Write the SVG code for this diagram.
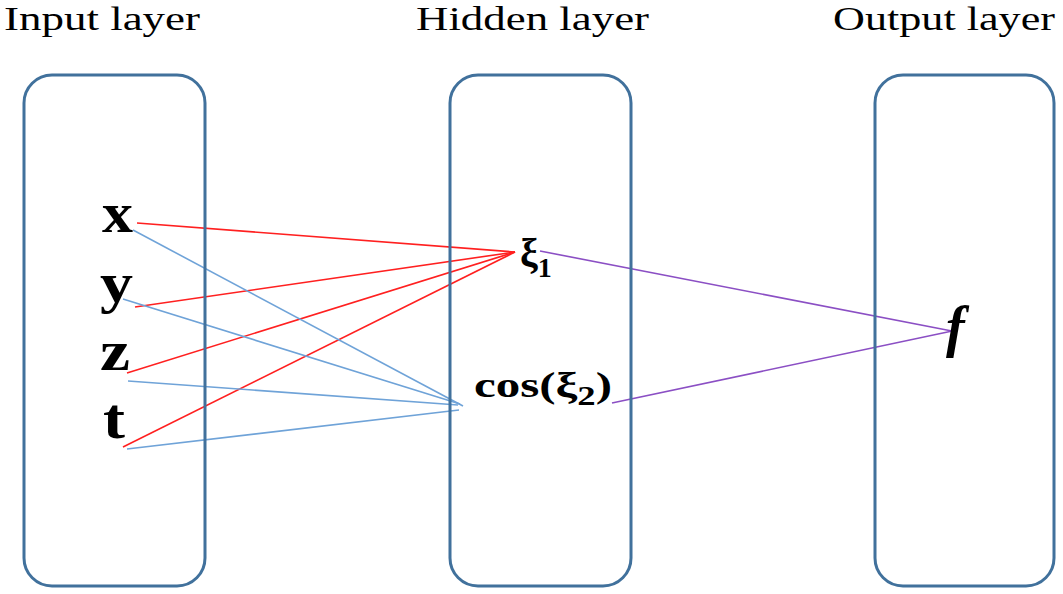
<svg xmlns="http://www.w3.org/2000/svg" width="1063" height="594" viewBox="0 0 1063 594">
<style>
.box{fill:none;stroke:#41719c;stroke-width:3}
.title{font-family:'Liberation Serif','Times New Roman',Times,serif;font-size:33px;fill:#000}
.var{font-family:'Liberation Serif','Times New Roman',Times,serif;font-weight:bold;font-size:56px;fill:#000}
.hid{font-family:'Liberation Serif','Times New Roman',Times,serif;font-weight:bold;fill:#000}
.red{stroke:#ff2020;stroke-width:1.6;fill:none}
.blue{stroke:#6fa3d8;stroke-width:1.6;fill:none}
.pur{stroke:#8b4fc4;stroke-width:1.6;fill:none}
</style>
<rect width="1063" height="594" fill="#fff"/>
<g id="connectors">
<line class="red" x1="137" y1="223" x2="515" y2="252"/>
<line class="red" x1="135" y1="307" x2="515" y2="252"/>
<line class="red" x1="127" y1="373" x2="515" y2="252"/>
<line class="red" x1="123" y1="447" x2="515" y2="252"/>
<line class="blue" x1="133" y1="230" x2="463" y2="406"/>
<line class="blue" x1="123" y1="299" x2="460" y2="404"/>
<line class="blue" x1="128" y1="381" x2="458" y2="405"/>
<line class="blue" x1="127" y1="449" x2="459" y2="410"/>
<line class="pur" x1="540" y1="251" x2="957" y2="332"/>
<line class="pur" x1="612" y1="403" x2="957" y2="330"/>
</g>
<g id="input-layer">
<rect class="box" x="24" y="75" width="181" height="511" rx="28" ry="28"/>
<text class="title" x="4" y="30" textLength="196" lengthAdjust="spacingAndGlyphs">Input layer</text>
<text class="var" x="102" y="232" textLength="31" lengthAdjust="spacingAndGlyphs">x</text>
<text class="var" x="100" y="302" textLength="33" lengthAdjust="spacingAndGlyphs">y</text>
<text class="var" x="100" y="370" textLength="30" lengthAdjust="spacingAndGlyphs">z</text>
<text class="var" x="103" y="438" textLength="22" lengthAdjust="spacingAndGlyphs">t</text>
</g>
<g id="hidden-layer">
<rect class="box" x="450" y="75" width="181" height="511" rx="28" ry="28"/>
<text class="title" x="416" y="30" textLength="233" lengthAdjust="spacingAndGlyphs">Hidden layer</text>
<text class="hid" x="520" y="266" font-size="40">ξ<tspan font-size="28" dy="11">1</tspan></text>
<text class="hid" x="474" y="397" font-size="36" textLength="138" lengthAdjust="spacingAndGlyphs">cos(ξ<tspan font-size="27" dy="8">2</tspan><tspan dy="-8">)</tspan></text>
</g>
<g id="output-layer">
<rect class="box" x="875" y="75" width="179" height="511" rx="28" ry="28"/>
<text class="title" x="833" y="30" textLength="222" lengthAdjust="spacingAndGlyphs">Output layer</text>
<text class="var" x="946" y="346" font-style="italic" font-size="60">f</text>
</g>
</svg>
